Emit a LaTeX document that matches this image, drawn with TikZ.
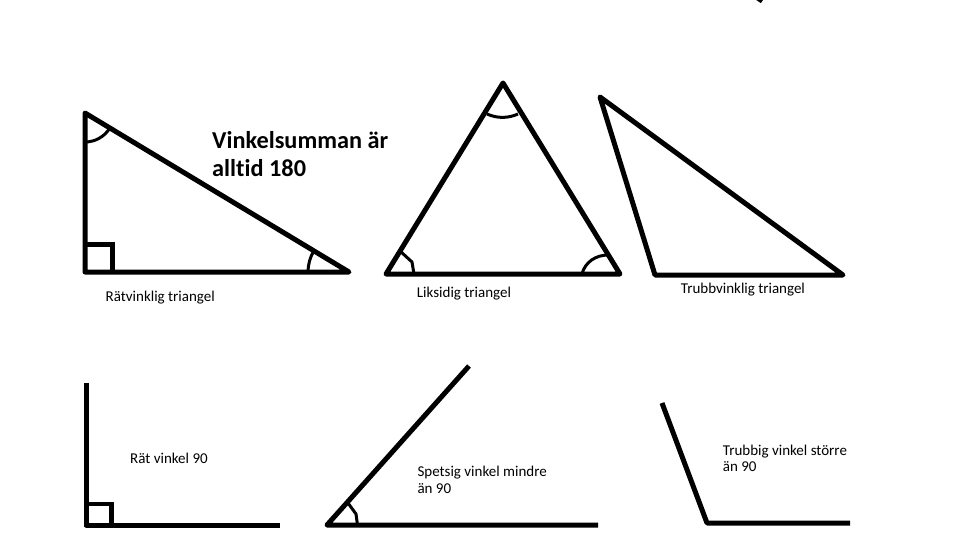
\documentclass[tikz,border=0pt]{standalone}
\usepackage{fontspec}
\setmainfont{Carlito}[Ligatures=NoCommon]
\begin{document}
\begin{tikzpicture}[x=1pt,y=-1pt,
  edge/.style={line width=5pt, line join=round},
  sqmark/.style={line width=4.5pt, line join=miter},
  anglemark/.style={line width=3pt, line join=round},
  lbl/.style={inner sep=0pt, anchor=base west, font=\fontsize{15}{16.7}\selectfont},
  ttl/.style={inner sep=0pt, anchor=base west, font=\bfseries\fontsize{24.3}{28}\selectfont}]
\fill[white] (0,0) rectangle (960,540);
\useasboundingbox (0,0) rectangle (960,540);

% right triangle
\coordinate (A1) at (85,113);
\coordinate (B1) at (85,272);
\coordinate (C1) at (349,272);
\coordinate (S1) at (112.5,244.5);
\draw[edge] (A1) -- (B1) -- (C1) -- cycle;
\draw[sqmark] (B1) rectangle (S1);
\draw[anglemark] (A1) ++(31:29) arc[start angle=31, end angle=90, radius=29];
\draw[anglemark] (C1) ++(180:41) arc[start angle=180, end angle=211, radius=41];

% isosceles triangle
\coordinate (A2) at (503,83);
\coordinate (B2) at (386,274);
\coordinate (C2) at (620,274);
\draw[edge] (A2) -- (B2) -- (C2) -- cycle;
\coordinate (a2s) at (487,114);
\coordinate (a2e) at (518,114);
\draw[anglemark] (a2s) .. controls (497,118.5) and (508,118.5) .. (a2e);
\coordinate (b2s) at (400,251);
\coordinate (b2m) at (412,262);
\coordinate (b2e) at (414,274);
\draw[anglemark] (b2s) -- (b2m) -- (b2e);
\coordinate (c2s) at (582,274);
\coordinate (c2e) at (608,255);
\draw[anglemark] (c2s) .. controls (585,262) and (596,255) .. (c2e);

% obtuse triangle
\coordinate (A3) at (600,97);
\coordinate (B3) at (655,275);
\coordinate (C3) at (843,275);
\draw[edge] (A3) -- (B3) -- (C3) -- cycle;

% right angle
\coordinate (R0) at (86,383);
\coordinate (R1) at (86,525);
\coordinate (R2) at (280,525);
\coordinate (RS) at (111.7,504);
\draw[edge] (R0) -- (R1) -- (R2);
\draw[sqmark] (R1) rectangle (RS);

% acute angle
\coordinate (P0) at (469,366);
\coordinate (P1) at (327,525);
\coordinate (P2) at (598,525);
\draw[edge] (P0) -- (P1) -- (P2);
\coordinate (p1s) at (348,503);
\coordinate (p1m) at (356,514);
\coordinate (p1e) at (357.5,525);
\draw[anglemark] (p1s) -- (p1m) -- (p1e);

% obtuse angle
\coordinate (O0) at (662,403);
\coordinate (O1) at (707,523);
\coordinate (O2) at (850,523);
\draw[edge] (O0) -- (O1) -- (O2);

% small stroke at the top edge
\coordinate (M0) at (751,-6);
\coordinate (M1) at (762,1.5);
\draw[line width=4pt] (M0) -- (M1);

% texts
\node[ttl] (title) at (212,149) {\begin{tabular}[t]{@{}l@{}}Vinkelsumman är\\alltid 180\end{tabular}};
\node[lbl] (l1) at (105.5,301) {Rätvinklig triangel};
\node[lbl] (l2) at (416.7,297) {Liksidig triangel};
\node[lbl] (l3) at (680.7,293) {Trubbvinklig triangel};
\node[lbl] (l4) at (130,463) {Rät vinkel 90};
\node[lbl] (l5) at (417.3,476.7) {\begin{tabular}[t]{@{}l@{}}Spetsig vinkel mindre\\än 90\end{tabular}};
\node[lbl] (l6) at (722.7,455) {\begin{tabular}[t]{@{}l@{}}Trubbig vinkel större\\än 90\end{tabular}};
\end{tikzpicture}
\end{document}
